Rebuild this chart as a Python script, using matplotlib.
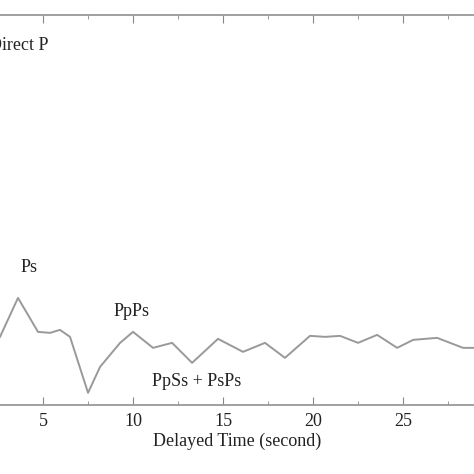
import matplotlib
matplotlib.use("Agg")
import matplotlib.pyplot as plt
from matplotlib.ticker import MultipleLocator

t = [2.61, 3.61, 4.72, 5.39, 5.94, 6.5, 7.5, 8.17, 9.28, 10.0, 11.11, 12.17, 13.28,
     14.72, 16.11, 17.33, 18.44, 19.83, 20.67, 21.5, 22.5, 23.56, 24.67, 25.56, 26.89, 28.33, 28.94]
amp = [3, 42, 8, 7, 10, 3, -53, -27, -3, 8, -8, -3, -23, 1, -12, -3, -18, 4, 3, 4, -3, 5, -8, 0, 2, -8, -8]
xticks = [5, 10, 15, 20, 25]

plt.rcParams['font.family'] = ['Liberation Serif', 'DejaVu Serif']
fig = plt.figure(figsize=(4.74, 4.74), dpi=100)
ax = fig.add_axes([0, 0.146, 1.0, 0.822])
ax.plot(t, amp, color='#999999', lw=1.4)
ax.set_xlim(2.61, 28.94)
ax.set_ylim(-65, 325)
ax.set_xticks(xticks)
ax.xaxis.set_minor_locator(MultipleLocator(2.5))
ax.tick_params(axis='x', which='both', direction='in', top=True, colors='#888888',
               labelcolor='#222222', labelsize=13, pad=6)
ax.tick_params(axis='x', which='major', length=6)
ax.tick_params(axis='x', which='minor', length=3)
ax.set_yticks([])
for s in ['left', 'right']:
    ax.spines[s].set_visible(False)
for s in ['top', 'bottom']:
    ax.spines[s].set_color('#999999')
    ax.spines[s].set_linewidth(1.3)
ax.set_xlabel('Delayed Time (second)', fontsize=13, color='#222222', labelpad=2)
kw = dict(fontsize=13, color='#222222')
ax.text(5.3, 295, 'Direct P', ha='right', va='center', **kw)
ax.text(4.2, 72, 'Ps', ha='center', va='center', **kw)
ax.text(9.9, 28, 'PpPs', ha='center', va='center', **kw)
ax.text(13.55, -42, 'PpSs + PsPs', ha='center', va='center', **kw)
fig.savefig('out.png', dpi=100)
